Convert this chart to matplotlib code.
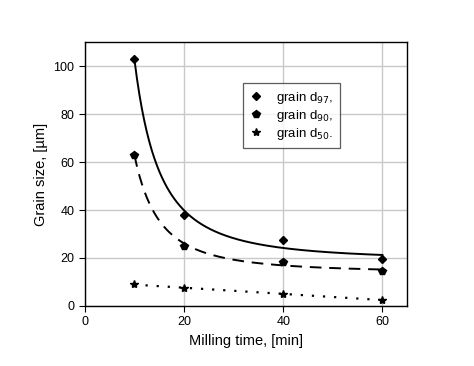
import numpy as np
import matplotlib
matplotlib.use('Agg')
import matplotlib.pyplot as plt

plt.rcParams['font.family'] = ['Liberation Sans', 'DejaVu Sans']

time_min = [10, 20, 40, 60]
d97 = [103, 38, 27.5, 19.5]
d90 = [63, 25, 18.5, 14.5]
d50 = [9, 7.5, 5, 2.5]

fig = plt.figure(figsize=(4.74, 3.66), dpi=100, facecolor="white")
ax = fig.add_axes([0.179, 0.164, 0.68, 0.721])

xs = np.linspace(10, 60, 200)
t = np.array(time_min, dtype=float)

# smooth trend lines, a + b/x^2 fitted to the points
for vals, ls in [(d97, "-"), (d90, (0, (6, 4)))]:
    b, a = np.polyfit(1 / t**2, vals, 1)
    ax.plot(xs, a + b / xs**2, color="black", lw=1.4, ls=ls)
k, c = np.polyfit(t, d50, 1)
ax.plot(xs, c + k * xs, color="black", lw=1.6, ls=(0, (1, 4)))

ax.plot(time_min, d97, "D", color="black", ms=4.5, ls="none", label="grain d$_{97}$,")
ax.plot(time_min, d90, "p", color="black", ms=6, ls="none", label="grain d$_{90}$,")
ax.plot(time_min, d50, "*", color="black", ms=6, ls="none", label="grain d$_{50}$.")

ax.set_xlim(0, 65)
ax.set_ylim(0, 110)
ax.set_xticks([0, 20, 40, 60])
ax.set_yticks([0, 20, 40, 60, 80, 100])
ax.grid(True, color="#c8c8c8", lw=1)
ax.set_axisbelow(True)
ax.tick_params(labelsize=9, color="black", length=4, direction="out")
for s in ax.spines.values():
    s.set_linewidth(1)

ax.set_xlabel("Milling time, [min]", fontsize=10.5)
ax.set_ylabel("Grain size, [µm]", fontsize=10.5)

leg = ax.legend(loc="upper left", bbox_to_anchor=(0.49, 0.845), borderaxespad=0,
                fontsize=9.5, frameon=True, fancybox=False, edgecolor="#333333",
                handlelength=1.0, borderpad=0.5, labelspacing=0.15, handletextpad=1.0)
leg.get_frame().set_linewidth(0.9)

fig.savefig("out.png", dpi=100, facecolor="white")
